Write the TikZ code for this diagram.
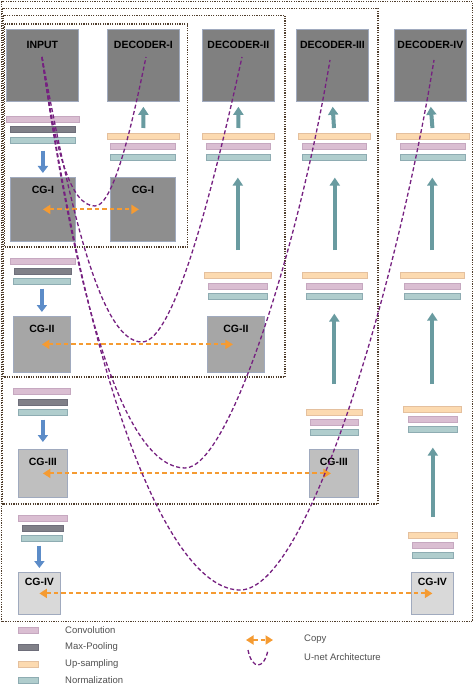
\documentclass[tikz,border=0pt]{standalone}
\usepackage{fontspec}
\setmainfont{Liberation Sans}
\usetikzlibrary{arrows.meta}
\definecolor{framec}{RGB}{80,62,45}
\definecolor{boxline}{RGB}{160,170,190}
\definecolor{gIn}{RGB}{128,128,128}
\definecolor{gI}{RGB}{142,142,142}
\definecolor{gII}{RGB}{166,166,166}
\definecolor{gIII}{RGB}{191,191,191}
\definecolor{gIV}{RGB}{217,217,217}
\definecolor{convf}{RGB}{218,190,210}
\definecolor{convd}{RGB}{198,168,192}
\definecolor{poolf}{RGB}{128,128,136}
\definecolor{poold}{RGB}{110,110,122}
\definecolor{upf}{RGB}{252,218,176}
\definecolor{upd}{RGB}{228,192,158}
\definecolor{normf}{RGB}{176,205,205}
\definecolor{normd}{RGB}{142,172,178}
\definecolor{tealc}{RGB}{105,155,160}
\definecolor{bluec}{RGB}{92,140,200}
\definecolor{copyc}{RGB}{245,155,50}
\definecolor{unetc}{RGB}{118,32,128}
\definecolor{legtxt}{RGB}{80,80,80}
\tikzset{
  frame/.style={draw=framec, line width=1.2pt, dash pattern=on 1.2pt off 1.2pt},
  gbox/.style={draw=boxline, line width=0.8pt, inner sep=0pt, rectangle},
  lbl/.style={anchor=center, inner sep=0pt, font=\bfseries\fontsize{10.5}{12}\selectfont},
  barn/.style={rectangle, inner sep=0pt, line width=0.6pt},
  conv/.style={barn, fill=convf, draw=convd},
  pool/.style={barn, fill=poolf, draw=poold},
  ups/.style={barn, fill=upf, draw=upd},
  norm/.style={barn, fill=normf, draw=normd},
  tealarr/.style={draw=tealc, line width=4pt, -{Triangle[width=10pt,length=8pt]}},
  bluearr/.style={draw=bluec, line width=4pt, -{Triangle[width=10pt,length=7pt]}},
  copyarr/.style={draw=copyc, line width=2pt, dash pattern=on 4.5pt off 3pt,
     {Triangle[width=9pt,length=7.5pt]}-{Triangle[width=9pt,length=7.5pt]}},
  unet/.style={draw=unetc, line width=1.3pt, dash pattern=on 4pt off 2.5pt},
  legtext/.style={anchor=west, inner sep=0pt, text=legtxt, font=\fontsize{9.5}{11}\selectfont}
}
\newcommand{\boxat}[8]{%
  \node[gbox, fill=#2, minimum width={(#4-#3)*1pt}, minimum height={(#6-#5)*1pt},
        anchor=north west, label={[lbl, yshift=-#8pt]north:#7}] (#1) at (#3,#5) {};}
\newcommand{\barat}[6]{%
  \node[#2, minimum width={(#4-#3)*1pt}, minimum height={(#6-#5)*1pt},
        anchor=north west] (#1) at (#3,#5) {};}
\begin{document}
\begin{tikzpicture}[x=1pt,y=-1pt]
\useasboundingbox (0,0) rectangle (474,687);
\fill[white] (0,0) rectangle (474,687);
% frames
\draw[frame] (1.5,1.5) rectangle (472.5,621.5);
\draw[frame] (2.5,8.5) rectangle (378,504);
\draw[frame] (3.5,15.5) rectangle (285,377);
\draw[frame] (4.5,24) rectangle (187.5,247);
% boxes
\boxat{inp}{gIn}{6}{78}{29}{101}{INPUT}{16}
\boxat{d1}{gIn}{107}{179}{29}{101}{DECODER-I}{16}
\boxat{d2}{gIn}{202}{274}{29}{101}{DECODER-II}{16}
\boxat{d3}{gIn}{296}{368}{29}{101}{DECODER-III}{16}
\boxat{d4}{gIn}{394}{466}{29}{101}{DECODER-IV}{16}
\boxat{cg1l}{gI}{10}{75}{177}{241}{CG-I}{13}
\boxat{cg1r}{gI}{110}{175}{177}{241}{CG-I}{13}
\boxat{cg2l}{gII}{13}{70}{316}{372}{CG-II}{13}
\boxat{cg2r}{gII}{207}{264}{316}{372}{CG-II}{13}
\boxat{cg3l}{gIII}{18}{67}{449}{497}{CG-III}{13}
\boxat{cg3r}{gIII}{309}{358}{449}{497}{CG-III}{13}
\boxat{cg4l}{gIV}{18}{60}{572}{614}{CG-IV}{10}
\boxat{cg4r}{gIV}{411}{453}{572}{614}{CG-IV}{10}
% encoder bars
\barat{c1}{conv}{6}{79}{116}{122}
\barat{p1}{pool}{10}{75}{126}{132}
\barat{n1}{norm}{10}{75}{137}{143}
\barat{c2}{conv}{10}{75}{258}{264}
\barat{p2}{pool}{14}{71}{268}{274}
\barat{n2}{norm}{13}{70}{278}{284}
\barat{c3}{conv}{13}{70}{388}{394}
\barat{p3}{pool}{18}{67}{399}{405}
\barat{n3}{norm}{18}{67}{409}{415}
\barat{c4}{conv}{18}{67}{515}{521}
\barat{p4}{pool}{22}{63}{525}{531}
\barat{n4}{norm}{21}{62}{535}{541}
% decoder bars
\barat{u1a}{ups}{107}{179}{133}{139}
\barat{c1a}{conv}{110}{175}{143}{149}
\barat{n1a}{norm}{110}{175}{154}{160}
\barat{u2a}{ups}{202}{274}{133}{139}
\barat{c2a}{conv}{206}{270}{143}{149}
\barat{n2a}{norm}{206}{270}{154}{160}
\barat{u2b}{ups}{204}{271}{272}{278}
\barat{c2b}{conv}{208}{267}{283}{289}
\barat{n2b}{norm}{208}{267}{293}{299}
\barat{u3a}{ups}{298}{370}{133}{139}
\barat{c3a}{conv}{302}{366}{143}{149}
\barat{n3a}{norm}{302}{366}{154}{160}
\barat{u3b}{ups}{302}{367}{272}{278}
\barat{c3b}{conv}{306}{362}{283}{289}
\barat{n3b}{norm}{306}{362}{293}{299}
\barat{u3c}{ups}{306}{362}{409}{415}
\barat{c3c}{conv}{310}{358}{419}{425}
\barat{n3c}{norm}{310}{358}{429}{435}
\barat{u4a}{ups}{396}{469}{133}{139}
\barat{c4a}{conv}{400}{465}{143}{149}
\barat{n4a}{norm}{400}{465}{154}{160}
\barat{u4b}{ups}{400}{464}{272}{278}
\barat{c4b}{conv}{404}{460}{283}{289}
\barat{n4b}{norm}{404}{460}{293}{299}
\barat{u4c}{ups}{403}{461}{406}{412}
\barat{c4c}{conv}{408}{457}{416}{422}
\barat{n4c}{norm}{408}{457}{426}{432}
\barat{u4d}{ups}{408}{457}{532}{538}
\barat{c4d}{conv}{412}{453}{542}{548}
\barat{n4d}{norm}{412}{453}{552}{558}
% encoder arrows
\draw[bluearr, shorten <=7pt, shorten >=4pt] (cg1l.north |- n1.south) -- (cg1l.north);
\draw[bluearr, shorten <=4pt, shorten >=4pt] (cg2l.north |- n2.south) -- (cg2l.north);
\draw[bluearr, shorten <=4pt, shorten >=7pt] (cg3l.north |- n3.south) -- (cg3l.north);
\draw[bluearr, shorten <=4pt, shorten >=4pt] (cg4l.north |- n4.south) -- (cg4l.north);
% decoder arrows
\draw[tealarr, shorten <=5pt, shorten >=5pt] (u1a.north) -- (d1.south);
\draw[tealarr, shorten <=5pt, shorten >=5pt] (u2a.north) -- (d2.south);
\draw[tealarr, shorten <=5pt, shorten >=5pt] (u3a.north) -- (d3.south);
\draw[tealarr, shorten <=5pt, shorten >=5pt] (u4a.north) -- (d4.south);
\draw[tealarr, shorten <=22pt, shorten >=17pt] (u2b.north) -- (u2b.north |- n2a.south);
\draw[tealarr, shorten <=22pt, shorten >=17pt] (u3b.north) -- (u3b.north |- n3a.south);
\draw[tealarr, shorten <=25pt, shorten >=14pt] (u3c.north) -- (u3c.north |- n3b.south);
\draw[tealarr, shorten <=22pt, shorten >=17pt] (u4b.north) -- (u4b.north |- n4a.south);
\draw[tealarr, shorten <=22pt, shorten >=13pt] (u4c.north) -- (u4c.north |- n4b.south);
\draw[tealarr, shorten <=15pt, shorten >=15pt] (u4d.north) -- (u4d.north |- n4c.south);
% copy arrows
\draw[copyarr, shorten <=0pt, shorten >=4pt] (cg1l.center) -- (cg1r.center);
\draw[copyarr, shorten <=0pt, shorten >=3pt] (cg2l.center) -- (cg2r.center);
\draw[copyarr, shorten <=0pt, shorten >=3pt] (cg3l.center) -- (cg3r.center);
\draw[copyarr, shorten <=0pt, shorten >=0pt] (cg4l.center) -- (cg4r.center);
% U-net curves
\coordinate (s) at (42,57);
\coordinate (e1) at (146,57);
\coordinate (e2) at (242,57);
\coordinate (e3) at (330,60);
\coordinate (e4) at (434,60);
\coordinate (m1) at (95,206);
\coordinate (m2) at (142,342);
\coordinate (m3) at (185,468);
\coordinate (m4) at (240,590);
\draw[unet] (s) .. controls (55,150) and (70,206) .. (m1) .. controls (115,206) and (135,110) .. (e1);
\draw[unet] (s) .. controls (73,225) and (103,342) .. (m2) .. controls (175,342) and (215,180) .. (e2);
\draw[unet] (s) .. controls (80,330) and (130,468) .. (m3) .. controls (230,468) and (300,240) .. (e3);
\draw[unet] (s) .. controls (95,420) and (175,590) .. (m4) .. controls (310,590) and (400,270) .. (e4);
% legend
\barat{lc}{conv}{18}{38}{627}{633}
\barat{lp}{pool}{18}{38}{644}{650}
\barat{lu}{ups}{18}{38}{661}{667}
\barat{ln}{norm}{18}{38}{677}{683}
\node[legtext] (tc) at (65,630.5) {Convolution};
\node[legtext] (tp) at (65,647.5) {Max-Pooling};
\node[legtext] (tu) at (65,664.5) {Up-sampling};
\node[legtext] (tn) at (65,680.5) {Normalization};
\coordinate (ca) at (246,640);
\coordinate (cb) at (273,640);
\draw[copyarr] (ca) -- (cb);
\coordinate (ua) at (248,650);
\coordinate (ub) at (268,650);
\draw[unet] (ua) .. controls (252,670) and (264,670) .. (ub);
\node[legtext] (tcopy) at (304,639) {Copy};
\node[legtext] (tunet) at (304,657) {U-net Architecture};
\end{tikzpicture}
\end{document}
